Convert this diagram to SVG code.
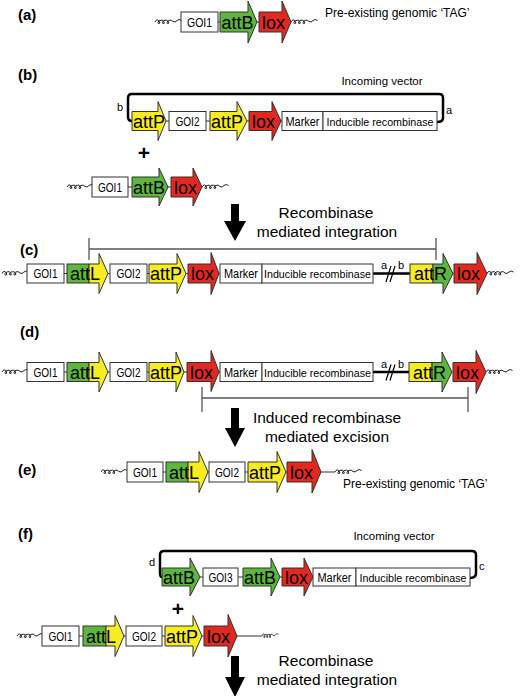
<svg xmlns="http://www.w3.org/2000/svg" xmlns:xlink="http://www.w3.org/1999/xlink" width="520" height="696" viewBox="0 0 520 696">
<style>
text{font-family:"Liberation Sans",Arial,sans-serif;fill:#000}
.box{fill:#fff;stroke:#333;stroke-width:1}
.g{fill:#5cb83c;stroke:#333;stroke-width:1}
.y{fill:#f7ec1f;stroke:#333;stroke-width:1}
.r{fill:#e2281f;stroke:#333;stroke-width:1}
.bt{font-size:12px;text-anchor:middle}
.rc{font-size:11.5px}
.at{font-size:18px}
.lbl{font-size:15px;font-weight:bold}
.sm{font-size:11px}
.pre{font-size:12px}
.cap{font-size:15.5px;text-anchor:middle}
.bb{stroke:#333;stroke-width:1;fill:none}
.thick{stroke:#000;stroke-width:2.5;fill:none}
.vec{stroke:#000;stroke-width:2.5;fill:none}
.brk{stroke:#555;stroke-width:1.3;fill:none}
.wig{stroke:#222;stroke-width:1;fill:none}
.big{fill:#000}
.plus{font-size:21px;font-weight:bold;text-anchor:middle}
</style>
<defs>
<path id="wig" d="M0,0 q2,-4 4.5,-0.5 q1,2.5 -1.2,2 q-1.3,-1.2 1.2,-3 q3,-1.2 4.5,1 q1,2.5 -1.2,2 q-1.3,-1.2 1.2,-3 q3,-1.2 4.5,1 q1,2.5 -1.2,2 q-1.3,-1.2 1.2,-3 q3,-1.2 4.5,1 q2,1.5 4,-1 q2,-2 4.5,0"/>
</defs>

<!-- Panel labels -->
<g id="labels">
<text class="lbl" x="18" y="20">(a)</text>
<text class="lbl" x="18" y="80">(b)</text>
<text class="lbl" x="20" y="255">(c)</text>
<text class="lbl" x="20" y="337">(d)</text>
<text class="lbl" x="18" y="475">(e)</text>
<text class="lbl" x="18" y="539">(f)</text>
</g>

<!-- Connectors / backbone lines -->
<g id="connectors">
<!-- (a) -->
<use xlink:href="#wig" class="wig" x="155" y="22"/>
<line class="bb" x1="218" y1="22" x2="259" y2="22"/>
<use xlink:href="#wig" class="wig" x="291" y="22"/>
<!-- (b) vector -->
<line class="bb" x1="166" y1="121" x2="282" y2="121"/>
<path class="vec" d="M132,121 Q128,121 128,117 L128,98 Q128,94 132,94 L439,94 Q443,94 443,98 L443,118 Q443,122 437,122"/>
<!-- (b) genomic -->
<use xlink:href="#wig" class="wig" x="67" y="187"/>
<line class="bb" x1="128" y1="187" x2="171" y2="187"/>
<use xlink:href="#wig" class="wig" x="202" y="187"/>
<!-- arrow 1 -->
<polygon class="big" points="231,204 239,204 239,221 246,221 235,241 224,221 231,221"/>
<!-- (c) -->
<use xlink:href="#wig" class="wig" x="2" y="273.5"/>
<line class="bb" x1="64" y1="273.5" x2="220" y2="273.5"/>
<line class="thick" x1="373" y1="273.5" x2="410" y2="273.5"/>
<path d="M386,282 L391,266 M390,282 L395,266" stroke="#000" stroke-width="1.2" fill="none"/>
<line class="bb" x1="453" y1="273.5" x2="454" y2="273.5"/>
<use xlink:href="#wig" class="wig" x="487" y="273.5"/>
<path class="brk" d="M89,238 V260 M89,249 H436 M436,238 V260"/>
<!-- (d) -->
<use xlink:href="#wig" class="wig" x="2" y="372"/>
<line class="bb" x1="64" y1="372" x2="220" y2="372"/>
<line class="thick" x1="373" y1="372" x2="410" y2="372"/>
<path d="M386,380.5 L391,364.5 M390,380.5 L395,364.5" stroke="#000" stroke-width="1.2" fill="none"/>
<use xlink:href="#wig" class="wig" x="486" y="372"/>
<path class="brk" d="M202,387 V412 M202,398 H468 M468,387 V412"/>
<!-- arrow 2 -->
<polygon class="big" points="231,408 239,408 239,428 245,428 235,447 225,428 231,428"/>
<!-- (e) -->
<use xlink:href="#wig" class="wig" x="101" y="472"/>
<line class="bb" x1="163" y1="472" x2="335" y2="472"/>
<use xlink:href="#wig" class="wig" x="335" y="472"/>
<!-- (f) vector -->
<line class="bb" x1="200" y1="577" x2="313" y2="577"/>
<path class="vec" d="M162,577 Q160,577 160,573 L160,555 Q160,551 164,551 L472,551 Q476,551 476,555 L476,573 Q476,578 470,578"/>
<!-- last row -->
<use xlink:href="#wig" class="wig" x="17" y="636"/>
<line class="bb" x1="79" y1="636" x2="262" y2="636"/>
<use xlink:href="#wig" class="wig" transform="translate(262,636) scale(0.62,1)"/>
<!-- arrow 3 -->
<polygon class="big" points="231,656 239,656 239,677 245,677 235,697 225,677 231,677"/>
</g>

<!-- (a) nodes -->
<g id="a-goi1"><rect class="box" x="181" y="12" width="37" height="20"/><text class="bt" x="199.5" y="26.5" textLength="25" lengthAdjust="spacingAndGlyphs">GOI1</text></g>
<g id="a-attB"><path class="g" d="M220,12 H248 V1 L257,22 L248,43 V32 H220 Z"/><text class="at" x="221.5" y="28.5">attB</text></g>
<g id="a-lox"><path class="r" d="M259,12 H282 V1 L291,22 L282,43 V32 H259 Z"/><text class="at" x="262" y="28.5">lox</text></g>
<text class="pre" x="325" y="17">Pre-existing genomic ‘TAG’</text>

<!-- (b) vector -->
<g id="b-vector">
<text class="sm" x="382" y="85" text-anchor="middle" style="font-size:11.5px">Incoming vector</text>
<text class="sm" x="117" y="111">b</text>
<text class="sm" x="446" y="114">a</text>
</g>
<g id="b-attP1"><path class="y" d="M132,111.5 H158 V101.5 L166,121 L158,140.5 V130.5 H132 Z"/><text class="at" x="133" y="127.5">attP</text></g>
<g id="b-goi2"><rect class="box" x="169" y="111.5" width="37" height="19"/><text class="bt" x="187.5" y="125.5" textLength="24" lengthAdjust="spacingAndGlyphs">GOI2</text></g>
<g id="b-attP2"><path class="y" d="M210,111.5 H237 V101.5 L247,121 L237,140.5 V130.5 H210 Z"/><text class="at" x="211" y="127.5">attP</text></g>
<g id="b-lox"><path class="r" d="M249,111.5 H272 V101.5 L281,121 L272,140.5 V130.5 H249 Z"/><text class="at" x="252" y="127.5">lox</text></g>
<g id="b-marker"><rect class="box" x="282" y="111.5" width="41" height="19"/><text class="bt" x="302.5" y="125.5" textLength="34" lengthAdjust="spacingAndGlyphs">Marker</text></g>
<g id="b-recomb"><rect class="box" x="323" y="111.5" width="114" height="19"/><text class="bt rc" x="380" y="125.5" textLength="107" lengthAdjust="spacingAndGlyphs">Inducible recombinase</text></g>
<text class="plus" x="144" y="160">+</text>

<!-- (b) genomic -->
<g id="b-goi1"><rect class="box" x="92" y="177" width="36" height="20"/><text class="bt" x="110" y="191.5" textLength="24" lengthAdjust="spacingAndGlyphs">GOI1</text></g>
<g id="b-attB"><path class="g" d="M132,177 H159 V168 L168,187 L159,206 V197 H132 Z"/><text class="at" x="133" y="193.5">attB</text></g>
<g id="b-lox2"><path class="r" d="M171,177 H193 V168 L202,187 L193,206 V197 H171 Z"/><text class="at" x="174" y="193.5">lox</text></g>

<g id="caption1">
<text class="cap" x="326" y="218">Recombinase</text>
<text class="cap" x="327" y="237">mediated integration</text>
</g>

<!-- (c) -->
<g id="c-goi1"><rect class="box" x="27" y="264" width="37" height="19"/><text class="bt" x="45.5" y="278" textLength="24" lengthAdjust="spacingAndGlyphs">GOI1</text></g>
<g id="c-attL"><rect class="g" x="67" y="264" width="22" height="19"/><path class="y" d="M89,264 H99 V253.5 L108,273.5 L99,293.5 V283 H89 Z"/><text class="at" x="70" y="280">attL</text></g>
<g id="c-goi2"><rect class="box" x="110" y="264" width="37" height="19"/><text class="bt" x="128.5" y="278" textLength="24" lengthAdjust="spacingAndGlyphs">GOI2</text></g>
<g id="c-attP"><path class="y" d="M149,264 H177 V253.5 L186,273.5 L177,293.5 V283 H149 Z"/><text class="at" x="150" y="280">attP</text></g>
<g id="c-lox"><path class="r" d="M188,264 H211 V252.5 L219,273.5 L211,294.5 V283 H188 Z"/><text class="at" x="191" y="280">lox</text></g>
<g id="c-marker"><rect class="box" x="220" y="264" width="42" height="19"/><text class="bt" x="241" y="278" textLength="34" lengthAdjust="spacingAndGlyphs">Marker</text></g>
<g id="c-recomb"><rect class="box" x="262" y="264" width="111" height="19"/><text class="bt rc" x="317.5" y="278" textLength="107" lengthAdjust="spacingAndGlyphs">Inducible recombinase</text></g>
<text class="sm" x="381" y="269">a</text>
<text class="sm" x="398" y="269">b</text>
<g id="c-attR"><rect class="y" x="410" y="264" width="23" height="19"/><path class="g" d="M433,264 H443 V253.5 L453,273.5 L443,293.5 V283 H433 Z"/><text class="at" x="414" y="280">attR</text></g>
<g id="c-lox2"><path class="r" d="M454,264 H477 V252.5 L487,273.5 L477,294.5 V283 H454 Z"/><text class="at" x="457" y="280">lox</text></g>

<!-- (d) -->
<g id="d-goi1"><rect class="box" x="27" y="362.5" width="37" height="19"/><text class="bt" x="45.5" y="376.5" textLength="24" lengthAdjust="spacingAndGlyphs">GOI1</text></g>
<g id="d-attL"><rect class="g" x="67" y="362.5" width="22" height="19"/><path class="y" d="M89,362.5 H99 V352 L108,372 L99,392 V381.5 H89 Z"/><text class="at" x="70" y="378.5">attL</text></g>
<g id="d-goi2"><rect class="box" x="110" y="362.5" width="37" height="19"/><text class="bt" x="128.5" y="376.5" textLength="24" lengthAdjust="spacingAndGlyphs">GOI2</text></g>
<g id="d-attP"><path class="y" d="M149,362.5 H176 V352 L184,372 L176,392 V381.5 H149 Z"/><text class="at" x="150" y="378.5">attP</text></g>
<g id="d-lox"><path class="r" d="M187,362.5 H211 V350.5 L219,372 L211,391.5 V381.5 H187 Z"/><text class="at" x="190" y="378.5">lox</text></g>
<g id="d-marker"><rect class="box" x="220" y="362.5" width="42" height="19"/><text class="bt" x="241" y="376.5" textLength="34" lengthAdjust="spacingAndGlyphs">Marker</text></g>
<g id="d-recomb"><rect class="box" x="262" y="362.5" width="111" height="19"/><text class="bt rc" x="317.5" y="376.5" textLength="107" lengthAdjust="spacingAndGlyphs">Inducible recombinase</text></g>
<text class="sm" x="381" y="367.5">a</text>
<text class="sm" x="398" y="367.5">b</text>
<g id="d-attR"><rect class="y" x="409" y="362.5" width="23" height="19"/><path class="g" d="M432,362.5 H442 V352 L452,372 L442,392 V381.5 H432 Z"/><text class="at" x="413" y="378.5">attR</text></g>
<g id="d-lox2"><path class="r" d="M453,362.5 H476 V350.5 L486,372 L476,393.5 V381.5 H453 Z"/><text class="at" x="456" y="378.5">lox</text></g>

<g id="caption2">
<text class="cap" x="327" y="423">Induced recombinase</text>
<text class="cap" x="327" y="442">mediated excision</text>
</g>

<!-- (e) -->
<g id="e-goi1"><rect class="box" x="127" y="462" width="36" height="20"/><text class="bt" x="145" y="476.5" textLength="24" lengthAdjust="spacingAndGlyphs">GOI1</text></g>
<g id="e-attL"><rect class="g" x="166" y="462" width="22" height="20"/><path class="y" d="M188,462 H199 V451.5 L208,472 L199,492.5 V482 H188 Z"/><text class="at" x="169" y="478.5">attL</text></g>
<g id="e-goi2"><rect class="box" x="209" y="462" width="36" height="20"/><text class="bt" x="227" y="476.5" textLength="24" lengthAdjust="spacingAndGlyphs">GOI2</text></g>
<g id="e-attP"><path class="y" d="M248,462 H277 V451.5 L286,472 L277,492.5 V482 H248 Z"/><text class="at" x="249" y="478.5">attP</text></g>
<g id="e-lox"><path class="r" d="M287,462 H312 V449.5 L321,472 L312,493 V482 H287 Z"/><text class="at" x="290" y="478.5">lox</text></g>
<text class="pre" x="343" y="488">Pre-existing genomic ‘TAG’</text>

<!-- (f) vector -->
<g id="f-vector">
<text class="sm" x="394" y="540" text-anchor="middle" style="font-size:11.5px">Incoming vector</text>
<text class="sm" x="149" y="566">d</text>
<text class="sm" x="479" y="570">c</text>
</g>
<g id="f-attB1"><path class="g" d="M162,568 H190 V558 L200,577 L190,596 V586 H162 Z"/><text class="at" x="163" y="583.5">attB</text></g>
<g id="f-goi3"><rect class="box" x="203" y="568" width="35" height="18"/><text class="bt" x="220.5" y="581.5" textLength="24" lengthAdjust="spacingAndGlyphs">GOI3</text></g>
<g id="f-attB2"><path class="g" d="M243,568 H271 V558 L280,577 L271,596 V586 H243 Z"/><text class="at" x="244" y="583.5">attB</text></g>
<g id="f-lox"><path class="r" d="M282,568 H304 V558 L313,577 L304,596 V586 H282 Z"/><text class="at" x="285" y="583.5">lox</text></g>
<g id="f-marker"><rect class="box" x="313" y="568" width="43" height="18"/><text class="bt" x="334.5" y="581.5" textLength="34" lengthAdjust="spacingAndGlyphs">Marker</text></g>
<g id="f-recomb"><rect class="box" x="356" y="568" width="114" height="18"/><text class="bt rc" x="413" y="581.5" textLength="107" lengthAdjust="spacingAndGlyphs">Inducible recombinase</text></g>
<text class="plus" x="178" y="616">+</text>

<!-- last row -->
<g id="g-goi1"><rect class="box" x="42" y="626" width="37" height="20"/><text class="bt" x="60.5" y="640.5" textLength="24" lengthAdjust="spacingAndGlyphs">GOI1</text></g>
<g id="g-attL"><rect class="g" x="83" y="626" width="23" height="20"/><path class="y" d="M106,626 H115 V615.5 L124,636 L115,656.5 V646 H106 Z"/><text class="at" x="86" y="642.5">attL</text></g>
<g id="g-goi2"><rect class="box" x="126" y="626" width="36" height="20"/><text class="bt" x="144" y="640.5" textLength="24" lengthAdjust="spacingAndGlyphs">GOI2</text></g>
<g id="g-attP"><path class="y" d="M165,626 H193 V615.5 L202,636 L193,656.5 V646 H165 Z"/><text class="at" x="166" y="642.5">attP</text></g>
<g id="g-lox"><path class="r" d="M204,626 H228 V614.5 L237,636 L228,657 V646 H204 Z"/><text class="at" x="207" y="642.5">lox</text></g>

<g id="caption3">
<text class="cap" x="326" y="666">Recombinase</text>
<text class="cap" x="327" y="685">mediated integration</text>
</g>
</svg>
